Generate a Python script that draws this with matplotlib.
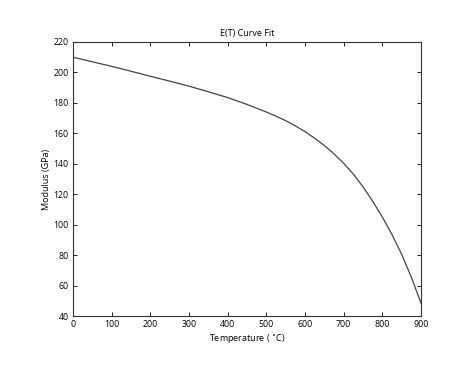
import matplotlib
matplotlib.use('Agg')
import matplotlib.pyplot as plt

temperature = [0, 50, 100, 150, 200, 250, 300, 350, 400, 450, 500,
               525, 550, 575, 600, 625, 650, 675, 700, 725, 750,
               775, 800, 825, 850, 875, 900]
modulus = [210, 207, 204, 200.8, 197.5, 194.3, 191, 187.3, 183.5, 179, 174,
           171.3, 168.3, 164.9, 161.1, 156.8, 152, 146.5, 140.3, 133.2, 124.9,
           115.4, 105, 93.5, 80.5, 65.5, 48.5]

x_ticks = [0, 100, 200, 300, 400, 500, 600, 700, 800, 900]
y_ticks = [40, 60, 80, 100, 120, 140, 160, 180, 200, 220]

plt.rcParams['font.family'] = ['Open Sans', 'DejaVu Sans']
plt.rcParams['mathtext.fontset'] = 'dejavusans'

fig = plt.figure(figsize=(4.74, 3.66), dpi=100)
ax = fig.add_axes([73 / 474, 1 - 316 / 366, 348 / 474, 274 / 366])

ax.plot(temperature, modulus, color='#444444', linewidth=0.9)

ax.set_xlim(0, 900)
ax.set_ylim(40, 220)
ax.set_xticks(x_ticks)
ax.set_yticks(y_ticks)
ax.tick_params(direction='in', top=True, right=True, labelsize=6.3,
               length=3, width=0.6, pad=3)
for spine in ax.spines.values():
    spine.set_linewidth(0.8)
    spine.set_color('#333333')

ax.set_title('E(T) Curve Fit', fontsize=6.5, pad=4)
ax.set_xlabel(r'Temperature ( $^{\circ}$C)', fontsize=6.5, labelpad=2)
ax.set_ylabel('Modulus (GPa)', fontsize=6.5, labelpad=2)

fig.savefig('out.png', dpi=100)
plt.close('all')
